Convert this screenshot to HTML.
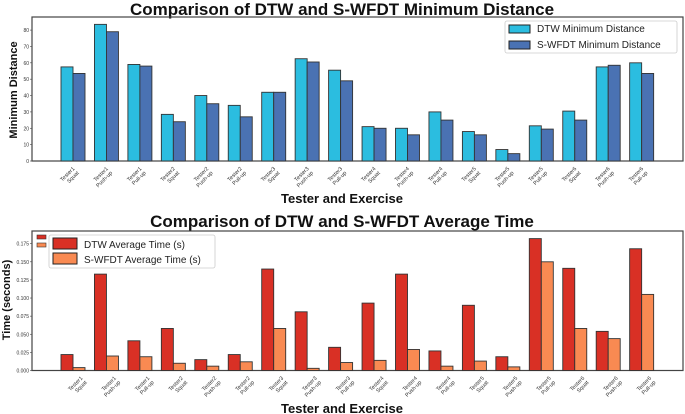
<!DOCTYPE html>
<html><head><meta charset="utf-8"><style>
body{margin:0;background:#fff;}
svg{display:block;font-family:"Liberation Sans",Arial,sans-serif;}
</style></head><body>
<svg id="c" width="685" height="414">
<text x="342" y="15" text-anchor="middle" font-size="17" font-weight="bold" fill="#111">Comparison of DTW and S-WFDT Minimum Distance</text>
<text x="342" y="227" text-anchor="middle" font-size="17" font-weight="bold" fill="#111">Comparison of DTW and S-WFDT Average Time</text>
<text x="342" y="203" text-anchor="middle" font-size="13" font-weight="bold" fill="#111">Tester and Exercise</text>
<text x="342" y="413" text-anchor="middle" font-size="13" font-weight="bold" fill="#111">Tester and Exercise</text>
<text transform="translate(17,90) rotate(-90)" text-anchor="middle" font-size="11" font-weight="bold" fill="#111">Minimum Distance</text>
<text transform="translate(10,300) rotate(-90)" text-anchor="middle" font-size="11" font-weight="bold" fill="#111">Time (seconds)</text>
<g id="top"></g>
<g id="bot"></g>
</svg>
<script>
const categories=["Tester1 Squat","Tester1 Push-up","Tester1 Pull-up","Tester2 Squat","Tester2 Push-up","Tester2 Pull-up","Tester3 Squat","Tester3 Push-up","Tester3 Pull-up","Tester4 Squat","Tester4 Push-up","Tester4 Pull-up","Tester5 Squat","Tester5 Push-up","Tester5 Pull-up","Tester6 Squat","Tester6 Push-up","Tester6 Pull-up"];
const dtwDistance=[57.5,83.5,59,28.5,40,34,42,62.5,55.5,21,20,30,18,7,21.5,30.5,57.5,60];
const swfdtDistance=[53.5,79,58,24,35,27,42,60.5,49,20,16,25,16,4.5,19.5,25,58.5,53.5];
const dtwTime=[0.022,0.133,0.041,0.058,0.015,0.022,0.140,0.081,0.032,0.093,0.133,0.027,0.090,0.019,0.182,0.141,0.054,0.168];
const swfdtTime=[0.004,0.020,0.019,0.010,0.006,0.012,0.058,0.003,0.011,0.014,0.029,0.006,0.013,0.005,0.150,0.058,0.044,0.105];
const distTicks=[0,10,20,30,40,50,60,70,80];
const timeTicks=[0,0.025,0.05,0.075,0.1,0.125,0.15,0.175];
const NS="http://www.w3.org/2000/svg";
function mk(tag,attrs,parent){const e=document.createElementNS(NS,tag);for(const k in attrs)e.setAttribute(k,attrs[k]);parent.appendChild(e);return e;}
function chart(g,cfg){
  const L=32,R=683,T=cfg.top,B=cfg.bottom;
  const y=v=>B-(v/cfg.max)*(B-T);
  const x=i=>73+i*33.45;
  const fr=mk('rect',{x:L,y:T,width:R-L,height:B-T,fill:'none',stroke:'#444','stroke-width':1.2},g);
  
  
  cfg.ticks.forEach(t=>{
    const tl=mk('text',{x:L-3,y:y(t)+2,'text-anchor':'end','font-size':5,fill:'#333'},g);
    tl.textContent=cfg.fmt(t);
    
    
    mk('line',{x1:L-2,x2:L,y1:y(t),y2:y(t),stroke:'#444','stroke-width':0.6},g);
  });
  categories.forEach((c,i)=>{
    const cx=x(i);
    const b1=mk('rect',{x:cx-12,y:y(cfg.a[i]),width:12,height:B-y(cfg.a[i]),fill:cfg.c1,stroke:'#333','stroke-width':0.9},g);
    
    
    const b2=mk('rect',{x:cx,y:y(cfg.b[i]),width:12,height:B-y(cfg.b[i]),fill:cfg.c2,stroke:'#333','stroke-width':0.9},g);
    
    
    const parts=c.split(' ');
    const tx=cx+cfg.lx,ty=B+cfg.ly;
    const lab=mk('text',{transform:`translate(${tx},${ty}) rotate(-45)`,'text-anchor':'end','font-size':5.5,fill:'#333'},g);
    
    
    mk('tspan',{x:0,dy:0},lab).textContent=parts[0];
    mk('tspan',{x:0,dy:6},lab).textContent=parts[1];
  });
  const lg=mk('g',{},g);
  
  
  const lb=cfg.leg;
  mk('rect',{x:lb.x,y:lb.y,width:lb.w,height:lb.h,fill:'#fff',stroke:'#ccc','stroke-width':0.8,rx:2},lg);
  [[cfg.c1,cfg.n1],[cfg.c2,cfg.n2]].forEach((p,k)=>{
    const ey=lb.y+lb.pad+k*lb.step;
    mk('rect',{x:lb.x+4,y:ey,width:lb.pw,height:lb.ph,fill:p[0],stroke:'#222','stroke-width':1},lg);
    const t=mk('text',{x:lb.x+lb.pw+11,y:ey+lb.ph-1,'font-size':lb.fs,fill:'#222'},lg);
    t.textContent=p[1];
    
    
  });
}
chart(document.getElementById('top'),{top:17,bottom:161,max:88,ticks:distTicks,fmt:t=>String(t),a:dtwDistance,b:swfdtDistance,c1:'#2bbde0',c2:'#4a72b3',n1:'DTW Minimum Distance',n2:'S-WFDT Minimum Distance',lx:2,ly:8,
  leg:{x:505,y:21,w:172,h:32,pad:4,step:16,pw:21,ph:8,fs:10}});
const bg=document.getElementById('bot');
mk('rect',{x:37,y:235,width:9,height:4,fill:'#d93025',stroke:'#333','stroke-width':0.6},bg);
mk('rect',{x:37,y:243,width:9,height:4,fill:'#f98a52',stroke:'#333','stroke-width':0.6},bg);
chart(bg,{top:231,bottom:370.5,max:0.1925,ticks:timeTicks,fmt:t=>t.toFixed(3),a:dtwTime,b:swfdtTime,c1:'#d93025',c2:'#f98a52',n1:'DTW Average Time (s)',n2:'S-WFDT Average Time (s)',lx:10,ly:8,
  leg:{x:49,y:235,w:166,h:33,pad:3,step:15,pw:24,ph:11,fs:10}});
</script>
</body></html>
